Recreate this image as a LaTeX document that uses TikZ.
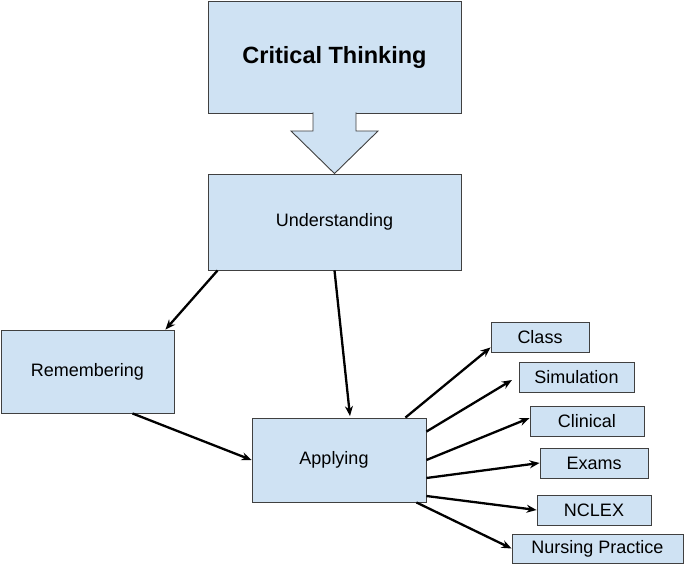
\documentclass[tikz,border=0pt]{standalone}
\usepackage{fontspec}
\setmainfont{Liberation Sans}
\usepackage{xcolor}
\usetikzlibrary{arrows.meta}
\definecolor{boxblue}{RGB}{207,226,243}
\definecolor{boxline}{RGB}{64,64,64}

\begin{document}
\begin{tikzpicture}[x=1pt, y=-1pt,
        box/.style={draw=boxline, fill=boxblue, line width=0.9pt, inner sep=0pt,
            font=\fontsize{18}{21}\selectfont},
        link/.style={->, >={Stealth[length=10pt,width=8pt]}, line width=2.3pt}]
        \useasboundingbox (0,0) rectangle (685,564);
        % main column
        \node[box, minimum width=253, minimum height=112,
            font=\bfseries\fontsize{23.5}{28}\selectfont] (ct) at (334.5,57) {\raisebox{2pt}{Critical Thinking}};
        \node[box, minimum width=253, minimum height=96] (un) at (334.5,222) {Understanding};
        \node[box, minimum width=173, minimum height=83] (re) at (87.5,371.5) {Remembering};
        \node[box, minimum width=174, minimum height=84] (ap) at (339,460) {\hspace*{-10pt}Applying};
        % big arrow, its fill hides the box edge
        \filldraw[draw=boxline, fill=boxblue, line width=0.9pt] (313,112.4) -- (313,131) -- (291,131)
            -- (un.north) -- (378,131) -- (356,131) -- (356,112.4);
        % settings on the right
        \node[box, minimum width=98, minimum height=30] (cl) at (540,337) {Class};
        \node[box, minimum width=115, minimum height=30] (si) at (576.5,377) {Simulation};
        \node[box, minimum width=114, minimum height=30] (cn) at (587,421) {Clinical};
        \node[box, minimum width=108, minimum height=30] (ex) at (594,463) {Exams};
        \node[box, minimum width=114, minimum height=30] (nc) at (594,510) {NCLEX};
        \node[box, minimum width=171, minimum height=29] (np) at (597.5,548.5) {Nursing Practice};
        \coordinate (sitip) at (512,380);
        \draw[link] ([xshift=10]un.south west) -- ([xshift=-9]re.north east);
        \draw[link] (un.south) -- ([xshift=11,yshift=1.5]ap.north);
        \draw[link] ([xshift=45]re.south) -- (ap.west);
        \draw[link] ([xshift=-21]ap.north east) -- ([yshift=5]cl.south west);
        \draw[link] ([yshift=-14]ap.north east) -- (sitip);
        \draw[link] (ap.east) -- ([yshift=3]cn.west);
        \draw[link] ([yshift=-18]ap.east) -- (ex.west);
        \draw[link] ([yshift=-36]ap.east) -- (nc.west);
        \draw[link] ([xshift=-10]ap.south east) -- (np.west);
    \end{tikzpicture}
\end{document}
